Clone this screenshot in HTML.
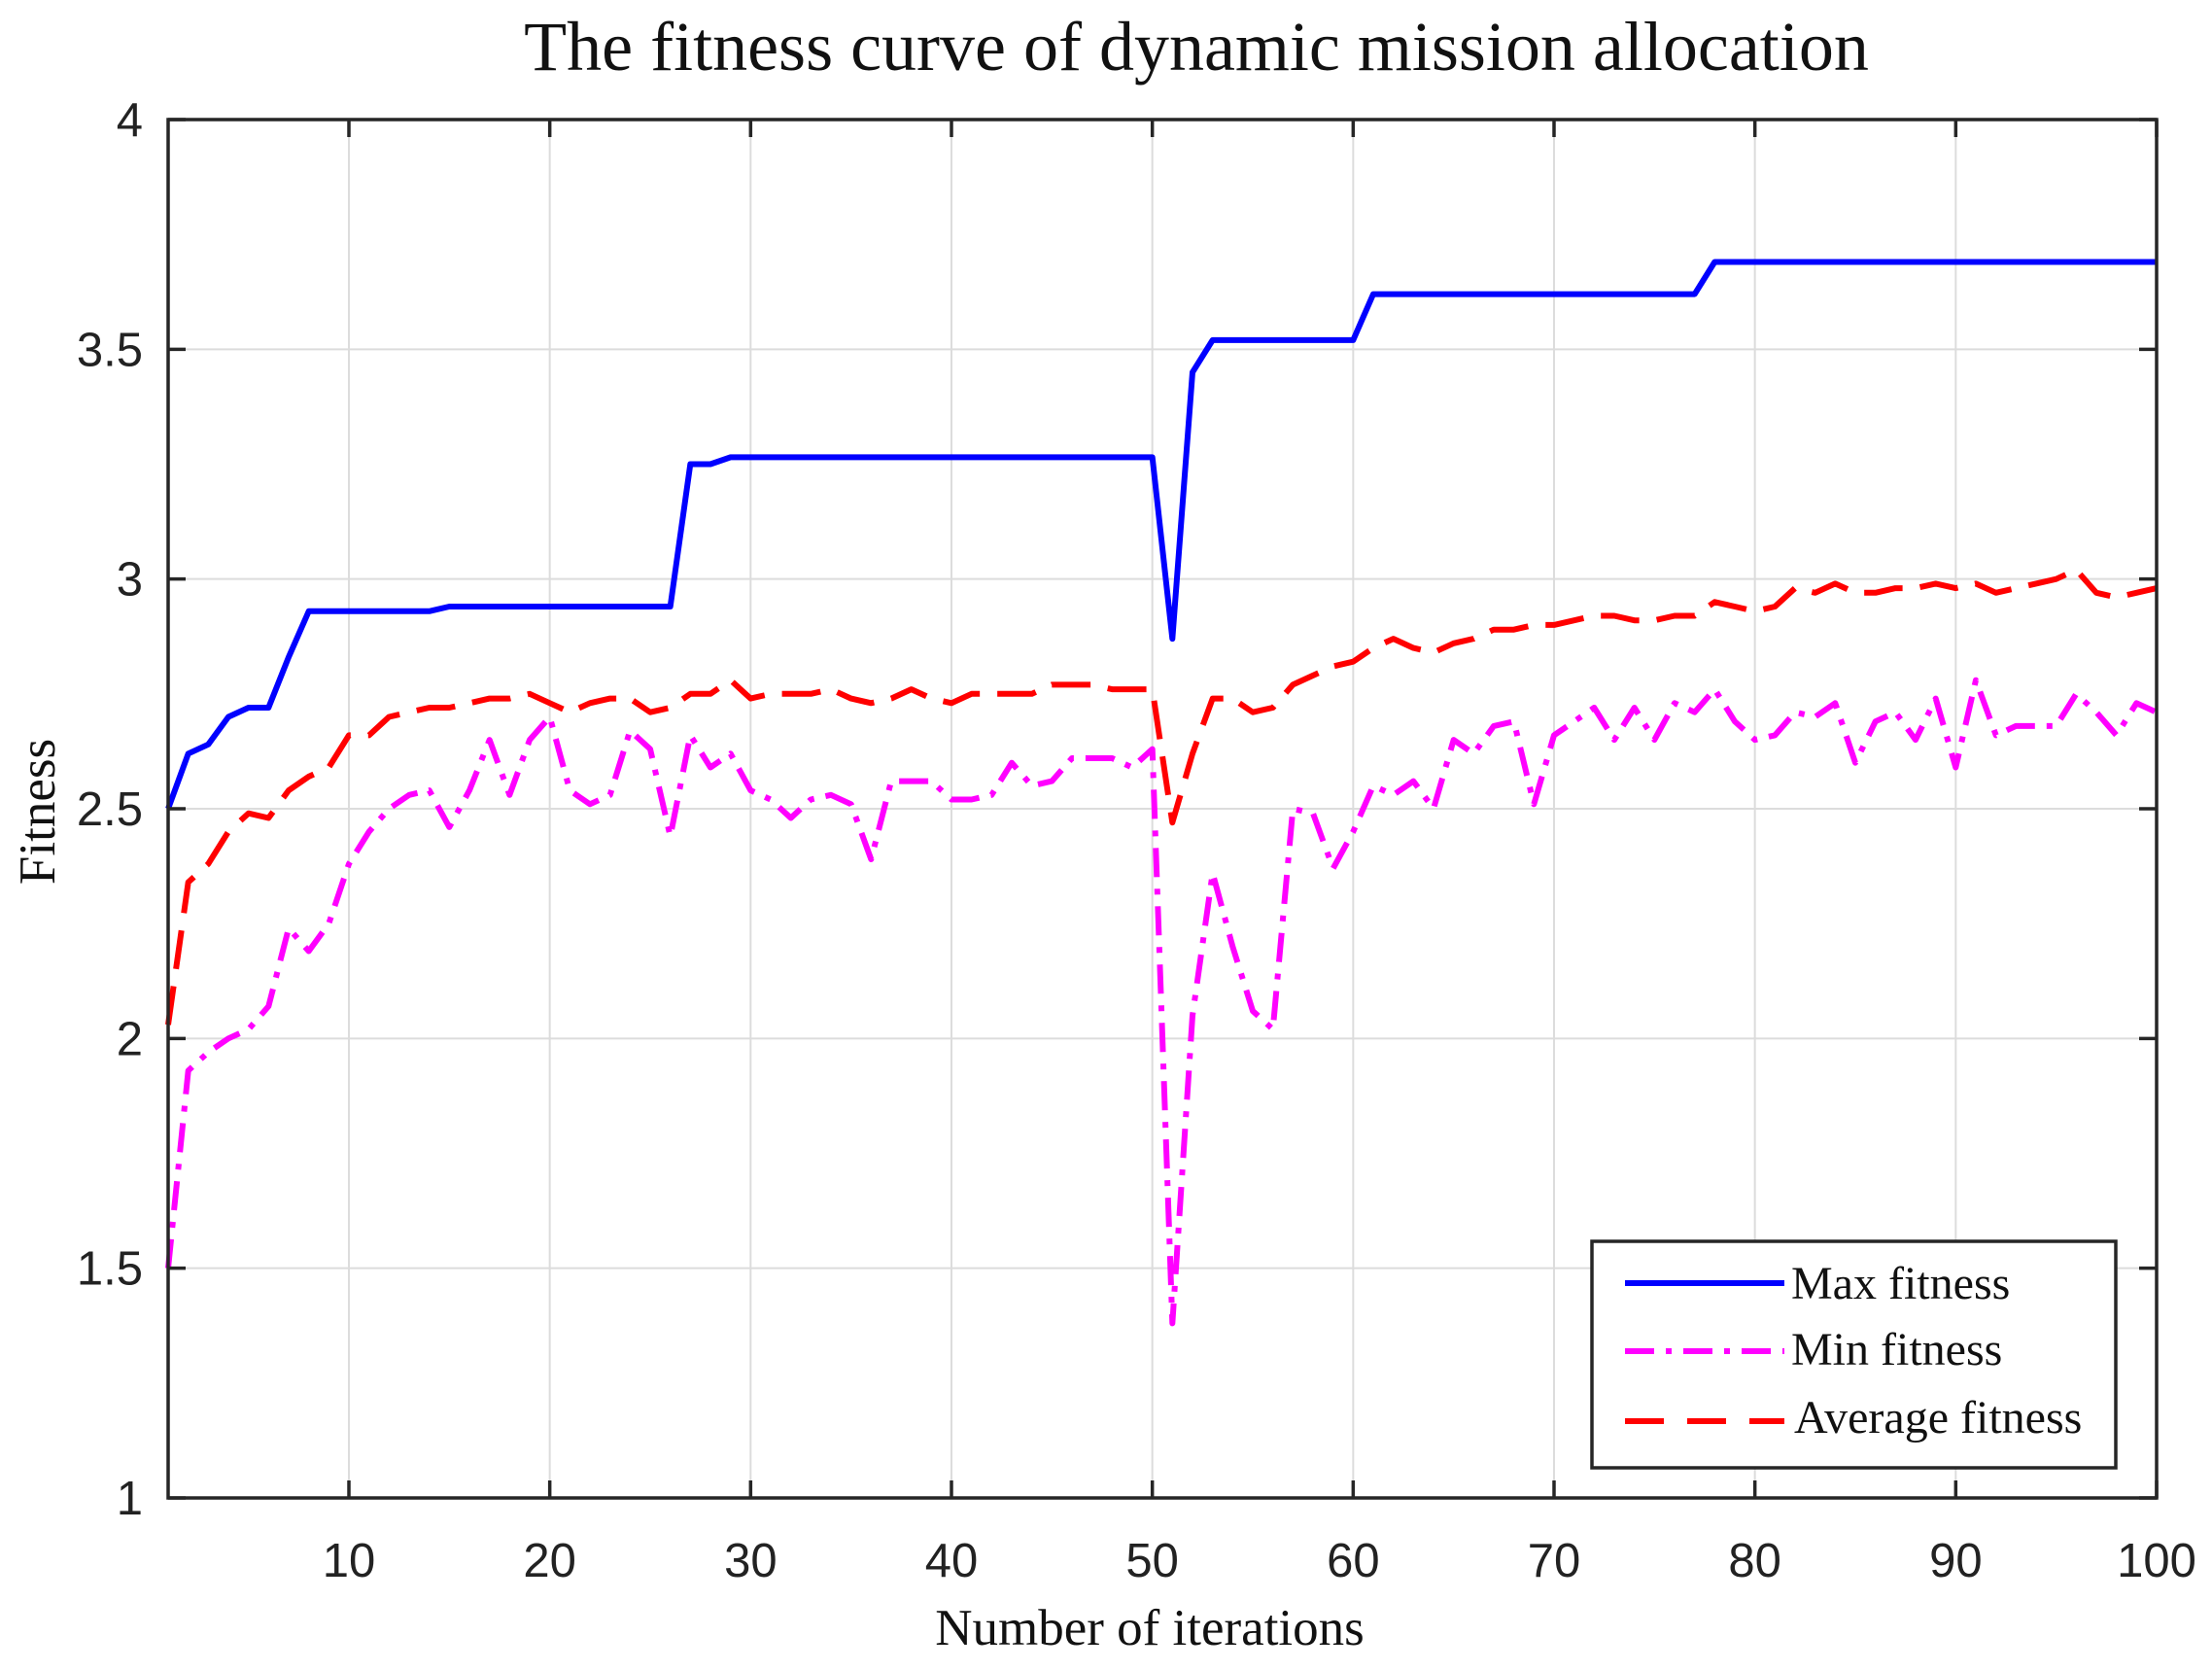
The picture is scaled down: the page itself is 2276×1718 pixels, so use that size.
<!DOCTYPE html>
<html><head><meta charset="utf-8"><style>
html,body{margin:0;padding:0;background:#fff;}
svg{display:block;}
</style></head><body>
<svg id="s" width="2276" height="1718" xmlns="http://www.w3.org/2000/svg">
<rect width="2276" height="1718" fill="#fff"/>
<text x="1231" y="72" font-family="Liberation Serif, serif" font-size="72" text-anchor="middle" fill="#111">The fitness curve of dynamic mission allocation</text>
<g id="grid"></g>
<g id="lines"></g>
<g id="axes"></g>
<text x="1183" y="1692" font-family="Liberation Serif, serif" font-size="53" text-anchor="middle" fill="#111">Number of iterations</text>
<text transform="translate(56,835) rotate(-90)" font-family="Liberation Serif, serif" font-size="53" text-anchor="middle" fill="#111">Fitness</text>
<g id="legend">
<rect x="1638" y="1277" width="539" height="233" fill="#fff" stroke="#262626" stroke-width="3.5"/>
<line x1="1672" y1="1320" x2="1836" y2="1320" stroke="#0000ff" stroke-width="6"/>
<line x1="1672" y1="1390" x2="1836" y2="1390" stroke="#ff00ff" stroke-width="6" stroke-dasharray="30,12,6,12"/>
<line x1="1672" y1="1462" x2="1836" y2="1462" stroke="#ff0000" stroke-width="6" stroke-dasharray="40,24"/>
<text x="1843" y="1336" font-family="Liberation Serif, serif" font-size="48" fill="#111">Max fitness</text>
<text x="1843" y="1404" font-family="Liberation Serif, serif" font-size="48" fill="#111">Min fitness</text>
<text x="1846" y="1474" font-family="Liberation Serif, serif" font-size="48" fill="#111">Average fitness</text>
</g>
</svg>
<script>
var L=173,R=2219,T=123,B=1541;
function X(v){return L+(v-1)*(R-L)/99;}
function Y(v){return B-(v-1)*(B-T)/3;}
var NS="http://www.w3.org/2000/svg";
function el(p,t,a){var e=document.createElementNS(NS,t);for(var k in a)e.setAttribute(k,a[k]);p.appendChild(e);return e;}
var g=document.getElementById('grid'),ax=document.getElementById('axes'),ln=document.getElementById('lines');
var xt=[10,20,30,40,50,60,70,80,90,100],yt=[1,1.5,2,2.5,3,3.5,4];
xt.forEach(function(v){var x=X(v);if(v<100)el(g,'line',{x1:x,y1:T,x2:x,y2:B,stroke:'#dcdcdc','stroke-width':2});
el(ax,'line',{x1:x,y1:B,x2:x,y2:B-18,stroke:'#262626','stroke-width':3.5});
el(ax,'line',{x1:x,y1:T,x2:x,y2:T+18,stroke:'#262626','stroke-width':3.5});
var t=el(ax,'text',{x:x,y:1622,'font-family':'Liberation Sans, sans-serif','font-size':49,'text-anchor':'middle',fill:'#222'});t.textContent=v;});
yt.forEach(function(v){var y=Y(v);if(v>1&&v<4)el(g,'line',{x1:L,y1:y,x2:R,y2:y,stroke:'#dcdcdc','stroke-width':2});
el(ax,'line',{x1:L,y1:y,x2:L+18,y2:y,stroke:'#262626','stroke-width':3.5});
el(ax,'line',{x1:R,y1:y,x2:R-18,y2:y,stroke:'#262626','stroke-width':3.5});
var t=el(ax,'text',{x:147,y:y+17,'font-family':'Liberation Sans, sans-serif','font-size':49,'text-anchor':'end',fill:'#222'});t.textContent=(v%1?v:v.toFixed(0));});
el(ax,'rect',{x:L,y:T,width:R-L,height:B-T,fill:'none',stroke:'#262626','stroke-width':3.5});
var mx=[2.5,2.62,2.64,2.70,2.72,2.72,2.83,2.93];
for(var i=9;i<=14;i++)mx.push(2.93);for(i=15;i<=26;i++)mx.push(2.94);mx.push(3.25,3.25);
for(i=29;i<=50;i++)mx.push(3.265);mx.push(2.87,3.45);for(i=53;i<=60;i++)mx.push(3.52);
for(i=61;i<=77;i++)mx.push(3.62);for(i=78;i<=100;i++)mx.push(3.69);
var av=[2.03,2.34,2.38,2.45,2.49,2.48,2.54,2.57,2.59,2.66,2.66,2.70,2.71,2.72,2.72,2.73,2.74,2.74,2.75,2.73,2.71,2.73,2.74,2.74,2.71,2.72,2.75,2.75,2.78,2.74,2.75,2.75,2.75,2.76,2.74,2.73,2.74,2.76,2.74,2.73,2.75,2.75,2.75,2.75,2.77,2.77,2.77,2.76,2.76,2.76,2.47,2.62,2.74,2.74,2.71,2.72,2.77,2.79,2.81,2.82,2.85,2.87,2.85,2.84,2.86,2.87,2.89,2.89,2.90,2.90,2.91,2.92,2.92,2.91,2.91,2.92,2.92,2.95,2.94,2.93,2.94,2.98,2.97,2.99,2.97,2.97,2.98,2.98,2.99,2.98,2.99,2.97,2.98,2.99,3.00,3.02,2.97,2.96,2.97,2.98];
var mn=[1.5,1.93,1.97,2.00,2.02,2.07,2.24,2.19,2.25,2.38,2.45,2.50,2.53,2.54,2.46,2.54,2.65,2.53,2.65,2.70,2.54,2.51,2.53,2.67,2.63,2.44,2.66,2.59,2.62,2.54,2.52,2.48,2.52,2.53,2.51,2.39,2.56,2.56,2.56,2.52,2.52,2.53,2.60,2.55,2.56,2.61,2.61,2.61,2.59,2.63,1.38,2.05,2.36,2.20,2.06,2.02,2.50,2.49,2.37,2.45,2.55,2.53,2.56,2.50,2.65,2.62,2.68,2.69,2.51,2.66,2.69,2.72,2.65,2.72,2.65,2.73,2.71,2.76,2.69,2.65,2.66,2.71,2.70,2.73,2.60,2.69,2.71,2.65,2.74,2.59,2.78,2.66,2.68,2.68,2.68,2.75,2.71,2.66,2.73,2.71];
function pts(a){return a.map(function(v,i){return X(i+1).toFixed(1)+','+Y(v).toFixed(1);}).join(' ');}
el(ln,'polyline',{points:pts(mn),fill:'none',stroke:'#ff00ff','stroke-width':6,'stroke-dasharray':'30,12,6,12','stroke-linejoin':'round'});
el(ln,'polyline',{points:pts(av),fill:'none',stroke:'#ff0000','stroke-width':6,'stroke-dasharray':'40,18','stroke-linejoin':'round'});
el(ln,'polyline',{points:pts(mx),fill:'none',stroke:'#0000ff','stroke-width':6,'stroke-linejoin':'round'});
</script>
</body></html>
